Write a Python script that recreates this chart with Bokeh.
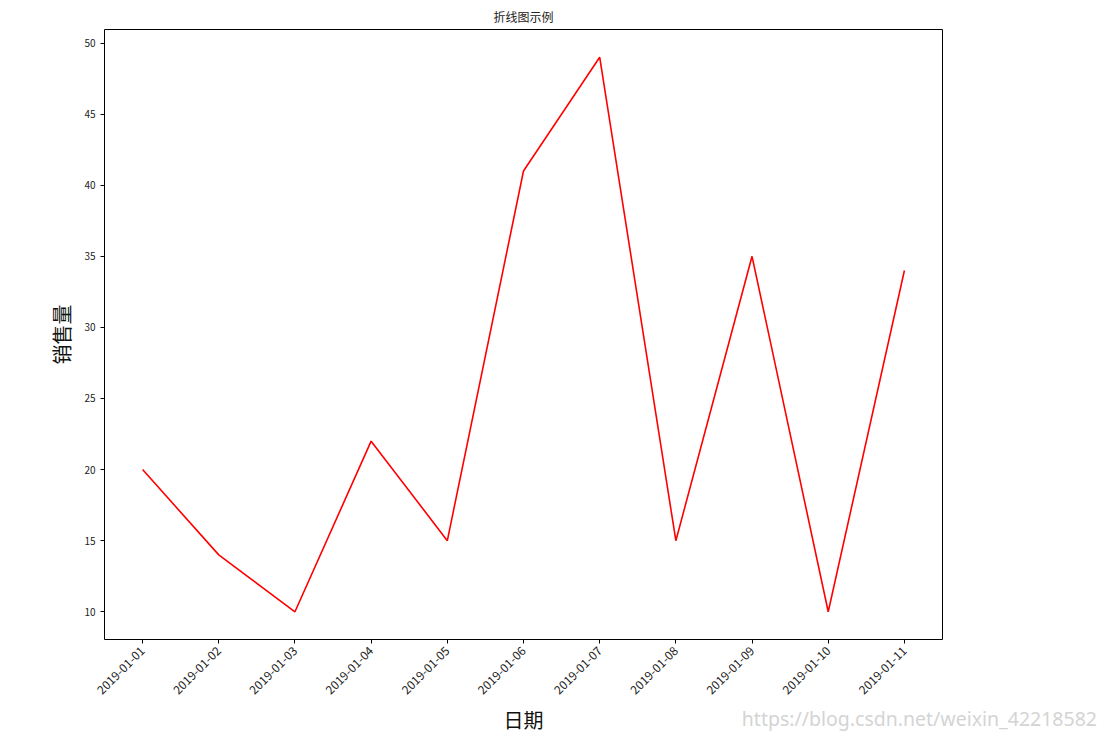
from datetime import datetime, timedelta
from bokeh.plotting import figure
from bokeh.layouts import column
from bokeh.models import Range1d, FixedTicker, DatetimeTickFormatter, Div, ColumnDataSource
from bokeh.embed import file_html
from bokeh.resources import INLINE
import math

dates = ["2019-01-01", "2019-01-02", "2019-01-03", "2019-01-04", "2019-01-05", "2019-01-06",
         "2019-01-07", "2019-01-08", "2019-01-09", "2019-01-10", "2019-01-11"]
sales = [20, 14, 10, 22, 15, 41, 49, 15, 35, 10, 34]
y_ticks = [10, 15, 20, 25, 30, 35, 40, 45, 50]

xs = [datetime.strptime(d, "%Y-%m-%d") for d in dates]
half = timedelta(hours=12)

src = ColumnDataSource(dict(x=xs, y=sales))

p = figure(width=1093, height=737, output_backend="svg", toolbar_location=None,
           x_axis_type="datetime",
           x_range=Range1d(xs[0] - half, xs[-1] + half),
           y_range=Range1d(8.05, 50.95),
           min_border_left=104, min_border_right=151, min_border_top=20, min_border_bottom=91)

p.line("x", "y", source=src, line_color="#ff0000", line_width=1.6)

p.title.text = "折线图示例"
p.title.align = "center"
p.title.text_font = "Noto Sans CJK SC"
p.title.text_font_size = "12px"
p.title.text_font_style = "normal"
p.title.text_color = "#222222"

p.outline_line_color = "black"
p.outline_line_width = 1
p.xgrid.visible = False
p.ygrid.visible = False

epoch = datetime(1970, 1, 1)
p.xaxis.ticker = FixedTicker(ticks=[(d - epoch).total_seconds() * 1000 for d in xs])
p.xaxis.formatter = DatetimeTickFormatter(days="%Y-%m-%d", months="%Y-%m-%d", hours="%Y-%m-%d")
p.xaxis.major_label_orientation = math.pi / 4
p.yaxis.ticker = FixedTicker(ticks=y_ticks)

for ax in (p.xaxis, p.yaxis):
    ax.axis_line_color = None
    ax.major_tick_line_color = "black"
    ax.major_tick_in = 0
    ax.major_tick_out = 4
    ax.minor_tick_line_color = None
    ax.major_label_text_font = "Noto Sans CJK SC"
    ax.major_label_text_font_size = "12px"
    ax.major_label_text_color = "#222222"
    ax.axis_label_text_font = "Noto Sans CJK SC"
    ax.axis_label_text_font_size = "20px"
    ax.axis_label_text_font_style = "normal"
    ax.axis_label_text_color = "#111111"

p.yaxis.major_label_text_font_size = "10px"
p.xaxis.axis_label = "日期"
p.yaxis.axis_label = "销售量"
p.xaxis.axis_label_standoff = 4
p.yaxis.axis_label_standoff = 5

wm = Div(text="https://blog.csdn.net/weixin_42218582", width=380, height=24,
         margin=(-32, 0, 0, 717),
         styles={"color": "#d4d4d4", "font-family": "Noto Sans", "font-size": "19.5px",
                 "text-align": "right", "white-space": "nowrap"})

layout = column(p, wm, spacing=0)

open("out.html", "w").write(file_html(layout, INLINE))
